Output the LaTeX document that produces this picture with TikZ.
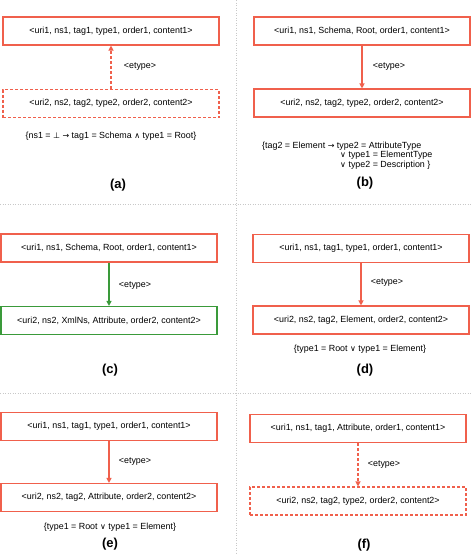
\documentclass[tikz,border=0pt]{standalone}
\usepackage{fontspec}
\setmainfont{Liberation Sans}
\newfontfamily\symfont{DejaVu Sans}
\usetikzlibrary{arrows.meta}
\definecolor{boxred}{HTML}{F0604C}
\definecolor{boxgreen}{HTML}{3A9A3A}
\definecolor{divgray}{HTML}{C8C8C8}
\newcommand{\sy}[1]{{\symfont\fontsize{8}{9}\selectfont #1}}
\begin{document}
\begin{tikzpicture}[x=1pt,y=-1pt,
  every node/.style={font=\fontsize{8.9}{10.5}\selectfont, inner sep=0pt},
  tuple/.style={draw=boxred, line width=1.1pt, minimum width=216pt, minimum height=28pt},
  dtuple/.style={tuple, dash pattern=on 3pt off 2pt},
  gtuple/.style={tuple, draw=boxgreen},
  rel/.style={draw=boxred, line width=1.1pt, -{Triangle[length=5pt,width=5pt]}},
  drel/.style={rel, dash pattern=on 3pt off 2pt},
  grel/.style={rel, draw=boxgreen},
  panel/.style={font=\fontsize{13}{15}\selectfont\bfseries},
  divider/.style={draw=divgray, line width=0.8pt, dash pattern=on 1pt off 1.5pt}]
\useasboundingbox (0,0) rectangle (474,555);
\fill[white] (0,0) rectangle (474,555);
% dividers
\coordinate (vt) at (236,0); \coordinate (vb) at (236,555);
\coordinate (h1l) at (0,204); \coordinate (h1r) at (472,204);
\coordinate (h2l) at (0,393); \coordinate (h2r) at (472,393);
\draw[divider] (vt) -- (vb);
\draw[divider] (h1l) -- (h1r);
\draw[divider] (h2l) -- (h2r);
% (a)
\node[tuple] (a1) at (111,31) {<uri1, ns1, tag1, type1, order1, content1>};
\node[dtuple] (a2) at (111,103.5) {<uri2, ns2, tag2, type2, order2, content2>};
\draw[drel] (a2) -- (a1);
\node (ae) at (140,67) {<etype>};
\node (ac) at (111,136) {\{ns1 = \sy{⊥} \sy{→} tag1 = Schema \sy{∧} type1 = Root\}};
\node[panel] (al) at (118,185) {(a)};
% (b)
\node[tuple] (b1) at (362,31) {<uri1, ns1, Schema, Root, order1, content1>};
\node[tuple] (b2) at (362,103) {<uri2, ns2, tag2, type2, order2, content2>};
\draw[rel] (b1) -- (b2);
\node (be) at (389,67) {<etype>};
\node[anchor=west] (bc1) at (262,146) {\{tag2 = Element \sy{→} type2 = AttributeType};
\node[anchor=west] (bc2) at (340,155.5) {\sy{∨} type1 = ElementType};
\node[anchor=west] (bc3) at (340,165) {\sy{∨} type2 = Description \}};
\node[panel] (bl) at (365,183) {(b)};
% (c)
\node[tuple] (c1) at (109,248) {<uri1, ns1, Schema, Root, order1, content1>};
\node[gtuple] (c2) at (109,320.5) {<uri2, ns2, XmlNs, Attribute, order2, content2>};
\draw[grel] (c1) -- (c2);
\node (ce) at (135,286) {<etype>};
\node[panel] (cl) at (110,370) {(c)};
% (d)
\node[tuple] (d1) at (361,248.5) {<uri1, ns1, tag1, type1, order1, content1>};
\node[tuple] (d2) at (361,320) {<uri2, ns2, tag2, Element, order2, content2>};
\draw[rel] (d1) -- (d2);
\node (de) at (387,283) {<etype>};
\node (dc) at (360,349) {\{type1 = Root \sy{∨} type1 = Element\}};
\node[panel] (dl) at (365,370) {(d)};
% (e)
\node[tuple] (e1) at (109,426.5) {<uri1, ns1, tag1, type1, order1, content1>};
\node[tuple] (e2) at (109,497.5) {<uri2, ns2, tag2, Attribute, order2, content2>};
\draw[rel] (e1) -- (e2);
\node (ee) at (135,462) {<etype>};
\node (ec) at (110,527) {\{type1 = Root \sy{∨} type1 = Element\}};
\node[panel] (el) at (110,544) {(e)};
% (f)
\node[tuple] (f1) at (358,428.5) {<uri1, ns1, tag1, Attribute, order1, content1>};
\node[dtuple] (f2) at (358,501) {<uri2, ns2, tag2, type2, order2, content2>};
\draw[drel] (f1) -- (f2);
\node (fe) at (384,465) {<etype>};
\node[panel] (fl) at (364,545) {(f)};
\end{tikzpicture}
\end{document}
